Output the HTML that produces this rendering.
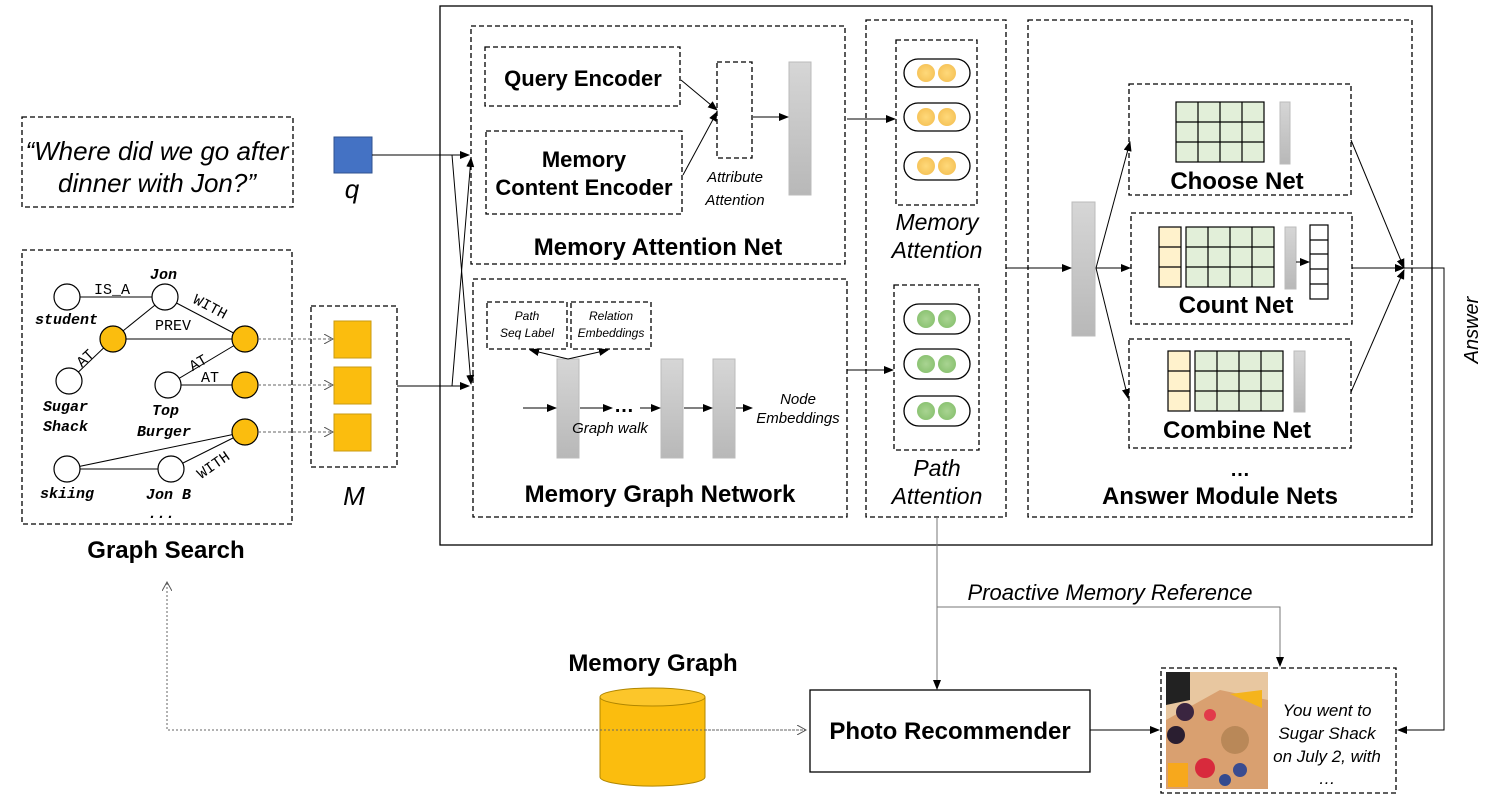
<!DOCTYPE html>
<html><head><meta charset="utf-8"><style>
html,body{margin:0;padding:0;background:#fff}
svg{display:block}
.b{font-weight:bold;fill:#000}
.i{font-style:italic}
</style></head><body>
<svg width="1502" height="801" viewBox="0 0 1502 801" xmlns="http://www.w3.org/2000/svg" font-family="Liberation Sans, sans-serif">
<defs>
<marker id="a" markerWidth="10" markerHeight="8" refX="9" refY="4" orient="auto" markerUnits="userSpaceOnUse"><path d="M0,0 L10,4 L0,8 z" fill="#000"/></marker>
<marker id="o" markerWidth="10" markerHeight="10" refX="9" refY="5" orient="auto" markerUnits="userSpaceOnUse"><path d="M0,0 L9,5 L0,10" fill="none" stroke="#555"/></marker>
<linearGradient id="g" x1="0" y1="0" x2="0" y2="1"><stop offset="0" stop-color="#d6d6d6"/><stop offset="1" stop-color="#b8b8b8"/></linearGradient>
<radialGradient id="yo"><stop offset="0" stop-color="#ffd97a"/><stop offset="1" stop-color="#f6c45a"/></radialGradient>
<radialGradient id="gr"><stop offset="0" stop-color="#a9d492"/><stop offset="1" stop-color="#8cc373"/></radialGradient>
</defs>
<g fill="none" stroke="#000" stroke-width="1.3" stroke-dasharray="5,3">
<rect x="22" y="117" width="271" height="90"/>
<rect x="22" y="250" width="270" height="274"/>
<rect x="311" y="306" width="86" height="161"/>
<rect x="471" y="26" width="374" height="238"/>
<rect x="485" y="47" width="195" height="59"/>
<rect x="486" y="131" width="196" height="83"/>
<rect x="717" y="62" width="35" height="96"/>
<rect x="473" y="279" width="374" height="238"/>
<rect x="487" y="302" width="80" height="47"/>
<rect x="571" y="302" width="80" height="47"/>
<rect x="866" y="20" width="140" height="497"/>
<rect x="896" y="40" width="81" height="165"/>
<rect x="894" y="285" width="85" height="165"/>
<rect x="1028" y="20" width="384" height="497"/>
<rect x="1129" y="84" width="222" height="111"/>
<rect x="1131" y="213" width="221" height="111"/>
<rect x="1129" y="339" width="222" height="109"/>
<rect x="1161" y="668" width="235" height="125"/>
</g>
<rect x="440" y="6" width="992" height="539" fill="none" stroke="#000" stroke-width="1.3"/>
<rect x="810" y="690" width="280" height="82" fill="none" stroke="#000" stroke-width="1.3"/>
<text x="157" y="160" font-size="26" text-anchor="middle" class="i">“Where did we go after</text>
<text x="157" y="192" font-size="26" text-anchor="middle" class="i">dinner with Jon?”</text>
<g stroke="#000" stroke-width="1" fill="none">
<line x1="67" y1="297" x2="165" y2="297"/>
<line x1="165" y1="297" x2="113" y2="339"/>
<line x1="165" y1="297" x2="245" y2="339"/>
<line x1="113" y1="339" x2="245" y2="339"/>
<line x1="113" y1="339" x2="69" y2="381"/>
<line x1="168" y1="385" x2="245" y2="339"/>
<line x1="168" y1="385" x2="245" y2="385"/>
<line x1="67" y1="469" x2="245" y2="432"/>
<line x1="67" y1="469" x2="171" y2="469"/>
<line x1="171" y1="469" x2="245" y2="432"/>
</g>
<g stroke="#000" stroke-width="1.2">
<circle cx="67" cy="297" r="13" fill="#fff"/><circle cx="165" cy="297" r="13" fill="#fff"/>
<circle cx="113" cy="339" r="13" fill="#fbbd0e"/><circle cx="245" cy="339" r="13" fill="#fbbd0e"/>
<circle cx="69" cy="381" r="13" fill="#fff"/><circle cx="168" cy="385" r="13" fill="#fff"/>
<circle cx="245" cy="385" r="13" fill="#fbbd0e"/><circle cx="245" cy="432" r="13" fill="#fbbd0e"/>
<circle cx="67" cy="469" r="13" fill="#fff"/><circle cx="171" cy="469" r="13" fill="#fff"/>
</g>
<g font-size="15" font-family="Liberation Mono, DejaVu Sans Mono, monospace">
<text x="94" y="294">IS_A</text>
<text x="155" y="330">PREV</text>
<text x="201" y="382">AT</text>
<text x="193" y="311" transform="rotate(28 210 305)">WITH</text>
<text x="76" y="363" transform="rotate(-43 85 358)">AT</text>
<text x="188" y="366" transform="rotate(-30 200 360)">AT</text>
<text x="193" y="471" transform="rotate(-35 210 462)">WITH</text>
</g>
<g font-size="15" font-weight="bold" font-style="italic" font-family="Liberation Mono, DejaVu Sans Mono, monospace">
<text x="150" y="279">Jon</text>
<text x="35" y="324">student</text>
<text x="43" y="411">Sugar</text><text x="43" y="431">Shack</text>
<text x="152" y="415">Top</text><text x="137" y="436">Burger</text>
<text x="40" y="498">skiing</text>
<text x="146" y="499">Jon B</text>
<text x="148" y="518">...</text>
</g>
<text x="166" y="558" font-size="24" text-anchor="middle" class="b">Graph Search</text>
<g stroke="#666" stroke-width="1" stroke-dasharray="3,2" fill="none">
<line x1="258" y1="339" x2="333" y2="339" marker-end="url(#o)"/>
<line x1="258" y1="385" x2="333" y2="385" marker-end="url(#o)"/>
<line x1="258" y1="432" x2="333" y2="432" marker-end="url(#o)"/>
</g>
<g fill="#fbbd0e" stroke="#c99a10">
<rect x="334" y="321" width="37" height="37"/><rect x="334" y="367" width="37" height="37"/><rect x="334" y="414" width="37" height="37"/>
</g>
<text x="354" y="505" font-size="26" class="i" text-anchor="middle">M</text>
<rect x="334" y="137" width="38" height="36" fill="#4472c4" stroke="#2f528f"/>
<text x="352" y="198" font-size="26" class="i" text-anchor="middle">q</text>
<g stroke="#000" stroke-width="1" fill="none">
<line x1="372" y1="155" x2="469" y2="155" marker-end="url(#a)"/>
<line x1="397" y1="386" x2="469" y2="386" marker-end="url(#a)"/>
<line x1="452" y1="155" x2="471" y2="384" marker-end="url(#a)"/>
<line x1="452" y1="386" x2="471" y2="158" marker-end="url(#a)"/>
</g>
<text x="583" y="86" font-size="22" class="b" text-anchor="middle">Query Encoder</text>
<text x="584" y="167" font-size="22" class="b" text-anchor="middle">Memory</text>
<text x="584" y="195" font-size="22" class="b" text-anchor="middle">Content Encoder</text>
<text x="735" y="182" font-size="15" class="i" text-anchor="middle">Attribute</text>
<text x="735" y="205" font-size="15" class="i" text-anchor="middle">Attention</text>
<rect x="789" y="62" width="22" height="133" fill="url(#g)" stroke="#bbb"/>
<text x="658" y="255" font-size="24" class="b" text-anchor="middle">Memory Attention Net</text>
<g stroke="#000" stroke-width="1" fill="none">
<line x1="681" y1="80" x2="717" y2="110" marker-end="url(#a)"/>
<line x1="683" y1="175" x2="717" y2="112" marker-end="url(#a)"/>
<line x1="753" y1="117" x2="788" y2="117" marker-end="url(#a)"/>
<line x1="847" y1="119" x2="895" y2="119" marker-end="url(#a)"/>
<line x1="847" y1="370" x2="893" y2="370" marker-end="url(#a)"/>
</g>
<text x="527" y="320" font-size="12" class="i" text-anchor="middle">Path</text>
<text x="527" y="337" font-size="12" class="i" text-anchor="middle">Seq Label</text>
<text x="611" y="320" font-size="12" class="i" text-anchor="middle">Relation</text>
<text x="611" y="337" font-size="12" class="i" text-anchor="middle">Embeddings</text>
<rect x="557" y="359" width="22" height="99" fill="url(#g)" stroke="#bbb"/>
<rect x="661" y="359" width="22" height="99" fill="url(#g)" stroke="#bbb"/>
<rect x="713" y="359" width="22" height="99" fill="url(#g)" stroke="#bbb"/>
<g stroke="#000" stroke-width="1" fill="none">
<line x1="568" y1="359" x2="530" y2="350" marker-end="url(#a)"/>
<line x1="568" y1="359" x2="608" y2="350" marker-end="url(#a)"/>
<line x1="523" y1="408" x2="556" y2="408" marker-end="url(#a)"/>
<line x1="580" y1="408" x2="612" y2="408" marker-end="url(#a)"/>
<line x1="640" y1="408" x2="660" y2="408" marker-end="url(#a)"/>
<line x1="684" y1="408" x2="712" y2="408" marker-end="url(#a)"/>
<line x1="736" y1="408" x2="752" y2="408" marker-end="url(#a)"/>
</g>
<text x="614" y="412" font-size="20" class="b">…</text>
<text x="610" y="433" font-size="15" class="i" text-anchor="middle">Graph walk</text>
<text x="798" y="404" font-size="15" class="i" text-anchor="middle">Node</text>
<text x="798" y="423" font-size="15" class="i" text-anchor="middle">Embeddings</text>
<text x="660" y="502" font-size="24" class="b" text-anchor="middle">Memory Graph Network</text>
<g stroke="#000" stroke-width="1.3" fill="#fff">
<rect x="904" y="59" width="66" height="28" rx="14"/><rect x="904" y="103" width="66" height="28" rx="14"/><rect x="904" y="152" width="66" height="28" rx="14"/>
<rect x="904" y="304" width="66" height="30" rx="15"/><rect x="904" y="349" width="66" height="30" rx="15"/><rect x="904" y="396" width="66" height="30" rx="15"/>
</g>
<g fill="url(#yo)">
<circle cx="926" cy="73" r="9"/><circle cx="947" cy="73" r="9"/><circle cx="926" cy="117" r="9"/><circle cx="947" cy="117" r="9"/><circle cx="926" cy="166" r="9"/><circle cx="947" cy="166" r="9"/>
</g>
<g fill="url(#gr)">
<circle cx="926" cy="319" r="9"/><circle cx="947" cy="319" r="9"/><circle cx="926" cy="364" r="9"/><circle cx="947" cy="364" r="9"/><circle cx="926" cy="411" r="9"/><circle cx="947" cy="411" r="9"/>
</g>
<text x="937" y="230" font-size="23" class="i" text-anchor="middle">Memory</text>
<text x="937" y="258" font-size="23" class="i" text-anchor="middle">Attention</text>
<text x="937" y="476" font-size="23" class="i" text-anchor="middle">Path</text>
<text x="937" y="504" font-size="23" class="i" text-anchor="middle">Attention</text>
<rect x="1072" y="202" width="23" height="134" fill="url(#g)" stroke="#bbb"/>
<g stroke="#000" stroke-width="1" fill="none">
<line x1="1006" y1="268" x2="1071" y2="268" marker-end="url(#a)"/>
<line x1="1096" y1="268" x2="1130" y2="142" marker-end="url(#a)"/>
<line x1="1096" y1="268" x2="1130" y2="268" marker-end="url(#a)"/>
<line x1="1096" y1="268" x2="1128" y2="398" marker-end="url(#a)"/>
<line x1="1351" y1="140" x2="1404" y2="268" marker-end="url(#a)"/>
<line x1="1352" y1="268" x2="1404" y2="268" marker-end="url(#a)"/>
<line x1="1351" y1="392" x2="1404" y2="270" marker-end="url(#a)"/>
<polyline points="1404,268 1444,268 1444,730 1398,730" marker-end="url(#a)"/>
</g>
<text x="1240" y="110" font-size="20" class="b" text-anchor="middle">…</text>
<text x="1240" y="476" font-size="20" class="b" text-anchor="middle">…</text>
<g stroke="#000" stroke-width="1.2" fill="#e2efd9">
<rect x="1176" y="102" width="88" height="60"/>
<path d="M1198,102V162M1220,102V162M1242,102V162M1176,122H1264M1176,142H1264" fill="none"/>
<rect x="1186" y="227" width="88" height="60"/>
<path d="M1208,227V287M1230,227V287M1252,227V287M1186,247H1274M1186,267H1274" fill="none"/>
<rect x="1159" y="227" width="22" height="60" fill="#fff2cc"/>
<path d="M1159,247H1181M1159,267H1181" fill="none"/>
<rect x="1195" y="351" width="88" height="60"/>
<path d="M1217,351V411M1239,351V411M1261,351V411M1195,371H1283M1195,391H1283" fill="none"/>
<rect x="1168" y="351" width="22" height="60" fill="#fff2cc"/>
<path d="M1168,371H1190M1168,391H1190" fill="none"/>
<rect x="1310" y="225" width="18" height="74" fill="#fff"/>
<path d="M1310,240H1328M1310,254H1328M1310,269H1328M1310,284H1328" fill="none"/>
</g>
<rect x="1280" y="102" width="10" height="62" fill="url(#g)" stroke="#bbb"/>
<rect x="1285" y="227" width="11" height="62" fill="url(#g)" stroke="#bbb"/>
<rect x="1294" y="351" width="11" height="61" fill="url(#g)" stroke="#bbb"/>
<line x1="1296" y1="262" x2="1309" y2="262" stroke="#000" marker-end="url(#a)"/>
<text x="1237" y="189" font-size="24" class="b" text-anchor="middle">Choose Net</text>
<text x="1236" y="313" font-size="24" class="b" text-anchor="middle">Count Net</text>
<text x="1237" y="438" font-size="24" class="b" text-anchor="middle">Combine Net</text>
<text x="1220" y="504" font-size="24" class="b" text-anchor="middle">Answer Module Nets</text>
<text x="1478" y="330" font-size="20" class="i" text-anchor="middle" transform="rotate(-90 1478 330)">Answer</text>
<g stroke="#000" stroke-width="1" fill="none">
<line x1="937" y1="517" x2="937" y2="689" stroke="#777" marker-end="url(#a)"/>
<polyline points="937,607 1280,607 1280,666" stroke="#777" marker-end="url(#a)"/>
<line x1="1090" y1="730" x2="1159" y2="730" marker-end="url(#a)"/>
</g>
<text x="1110" y="600" font-size="22" class="i" text-anchor="middle">Proactive Memory Reference</text>
<text x="950" y="739" font-size="24" class="b" text-anchor="middle">Photo Recommender</text>
<text x="653" y="671" font-size="24" class="b" text-anchor="middle">Memory Graph</text>
<g stroke="#b08600" stroke-width="1">
<path d="M600,697 V777 A52,9 0 0 0 705,777 V697" fill="#fbbd0e"/>
<ellipse cx="652.5" cy="697" rx="52.5" ry="9" fill="#fcc62a"/>
</g>
<g stroke="#666" stroke-width="1" stroke-dasharray="2,2" fill="none">
<polyline points="806,730 167,730 167,582" marker-end="url(#o)"/>
<line x1="705" y1="730" x2="806" y2="730" marker-end="url(#o)"/>
</g>
<rect x="1166" y="672" width="102" height="117" fill="#d9a070"/>
<path d="M1166,672 H1268 V700 L1220,690 L1166,720z" fill="#e8c7a0"/>
<path d="M1166,672 H1190 V700 L1166,705z" fill="#222"/>
<circle cx="1185" cy="712" r="9" fill="#3a2540"/><circle cx="1176" cy="735" r="9" fill="#2a1e30"/>
<circle cx="1210" cy="715" r="6" fill="#e23a4a"/><circle cx="1205" cy="768" r="10" fill="#d82a3c"/>
<circle cx="1240" cy="770" r="7" fill="#3a4c90"/><circle cx="1225" cy="780" r="6" fill="#334a8f"/>
<rect x="1168" y="763" width="20" height="24" fill="#f7a81c"/>
<path d="M1230,694 L1262,690 L1262,708z" fill="#f5b41c"/>
<circle cx="1235" cy="740" r="14" fill="#b98858"/>
<text x="1327" y="716" font-size="17" class="i" text-anchor="middle">You went to</text>
<text x="1327" y="739" font-size="17" class="i" text-anchor="middle">Sugar Shack</text>
<text x="1327" y="762" font-size="17" class="i" text-anchor="middle">on July 2, with</text>
<text x="1327" y="784" font-size="17" class="i" text-anchor="middle">…</text>
</svg>
</body></html>
